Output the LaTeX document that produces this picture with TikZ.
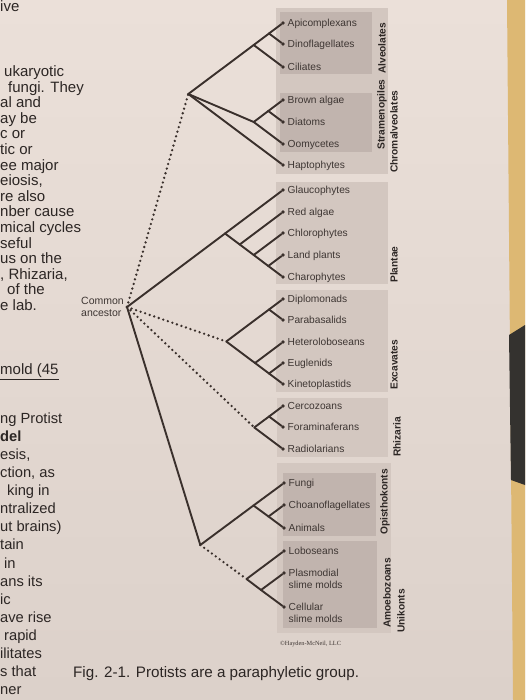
\documentclass[tikz,border=0pt]{standalone}
\usepackage{fontspec}
\setmainfont{Liberation Sans}
\newfontfamily\cpyfont{Liberation Serif}
\usetikzlibrary{positioning}
\definecolor{paperA}{HTML}{EBE0D9}
\definecolor{paperB}{HTML}{DCD1CA}
\definecolor{boxlight}{HTML}{D3C7C0}
\definecolor{boxdark}{HTML}{C1B4AE}
\definecolor{ink}{HTML}{3A302C}
\definecolor{labelgray}{HTML}{3E3633}
\definecolor{pagetext}{HTML}{2C2624}
\definecolor{tabletop}{HTML}{DDB873}
\definecolor{darkcloth}{HTML}{34322F}
\begin{document}
\begin{tikzpicture}[x=1pt,y=-1pt,
  branch/.style={ink,line width=1.9pt,line cap=round,line join=round},
  dotline/.style={ink,line width=2.6pt,line cap=round,dash pattern=on 0pt off 4.8pt},
  tip/.style={circle,fill=ink,inner sep=0pt,minimum size=3.6pt},
  leaf/.style={font=\fontsize{10.2}{12}\selectfont,text=labelgray,inner sep=0pt,text height=6.6pt,text depth=0pt},
  twoline/.style={font=\fontsize{10.2}{12}\selectfont,text=labelgray,inner sep=0pt,align=left},
  cladename/.style={font=\fontsize{10.2}{12}\selectfont\bfseries,text=pagetext,inner sep=0pt,rotate=90,anchor=west,text height=7pt,text depth=0pt},
  lightbox/.style={fill=boxlight},
  darkbox/.style={fill=boxdark},
  pagecol/.style={text=pagetext,inner sep=0pt,align=left,anchor=base west}]

  \useasboundingbox (0,0) rectangle (525,700);
  \shade[top color=paperA,bottom color=paperB] (0,0) rectangle (525,700);
  \fill[tabletop] (507,0) -- (525,0) -- (525,700) -- (513,700) -- cycle;
  \fill[darkcloth] (509,335) -- (525,325) -- (525,485) -- (511,480) -- cycle;

  % page text cut off at the left (base = last line)
  \node[pagecol,font=\fontsize{15}{15.6}\selectfont] at (0,11.5) {ive};
  \node[pagecol,font=\fontsize{15}{15.6}\selectfont] (colA) at (0,310.5) {\hspace*{4pt}ukaryotic\\
    \hspace*{8pt}fungi. They\\ al and\\ ay be\\ c or\\ tic or\\ ee major\\ eiosis,\\ re also\\
    nber cause\\ mical cycles\\ seful\\ us on the\\ , Rhizaria,\\ \hspace*{7pt}of the\\ e lab.};
  \node[pagecol,font=\fontsize{15}{15.6}\selectfont] at (0,374.5) {\underline{mold (45}};
  \node[pagecol,font=\fontsize{14.7}{18.07}\selectfont] (colB) at (0,694.5) {ng Protist\\ \textbf{del}\\
    esis,\\ ction, as\\ \hspace*{7pt}king in\\ ntralized\\ ut brains)\\ tain\\ \hspace*{4pt}in\\ ans its\\
    ic\\ ave rise\\ \hspace*{4pt}rapid\\ ilitates\\ s that\\ ner};

  % shaded clades
  \fill[lightbox] (276,8) rectangle (388,174);
  \fill[darkbox] (280,12) rectangle (372,74);
  \fill[darkbox] (280,93) rectangle (372,152);
  \fill[lightbox] (276,182) rectangle (388,284);
  \fill[lightbox] (276,290) rectangle (388,392);
  \fill[lightbox] (277,398) rectangle (388,457);
  \fill[lightbox] (277,463) rectangle (391,633);
  \fill[darkbox] (283,473) rectangle (376,536);
  \fill[darkbox] (283,541) rectangle (377,628);

  % tips
  \node[tip] (api) at (283,23) {};
  \node[tip] (dino) at (283,44) {};
  \node[tip] (cil) at (283,67) {};
  \node[tip] (brown) at (283,100) {};
  \node[tip] (diat) at (283,122) {};
  \node[tip] (oomy) at (283,144) {};
  \node[tip] (hapto) at (283,165) {};
  \node[tip] (glau) at (283,190) {};
  \node[tip] (red) at (283,212) {};
  \node[tip] (chloro) at (283,233) {};
  \node[tip] (land) at (283,255) {};
  \node[tip] (charo) at (283,277) {};
  \node[tip] (diplo) at (283,299) {};
  \node[tip] (para) at (283,320) {};
  \node[tip] (hetero) at (283,342) {};
  \node[tip] (eugl) at (283,363) {};
  \node[tip] (kineto) at (283,384) {};
  \node[tip] (cerco) at (283,406) {};
  \node[tip] (foram) at (283,427) {};
  \node[tip] (radio) at (283,449) {};
  \node[tip] (fungi) at (284,483) {};
  \node[tip] (choano) at (284,505) {};
  \node[tip] (animal) at (284,528) {};
  \node[tip] (lobo) at (284,551) {};
  \node[tip] (plasmo) at (284,573) {};
  \node[tip] (cell) at (284,607) {};

  \node[leaf,right=2.5pt of api] {Apicomplexans};
  \node[leaf,right=2.5pt of dino] {Dinoflagellates};
  \node[leaf,right=2.5pt of cil] {Ciliates};
  \node[leaf,right=2.5pt of brown] {Brown algae};
  \node[leaf,right=2.5pt of diat] {Diatoms};
  \node[leaf,right=2.5pt of oomy] {Oomycetes};
  \node[leaf,right=2.5pt of hapto] {Haptophytes};
  \node[leaf,right=2.5pt of glau] {Glaucophytes};
  \node[leaf,right=2.5pt of red] {Red algae};
  \node[leaf,right=2.5pt of chloro] {Chlorophytes};
  \node[leaf,right=2.5pt of land] {Land plants};
  \node[leaf,right=2.5pt of charo] {Charophytes};
  \node[leaf,right=2.5pt of diplo] {Diplomonads};
  \node[leaf,right=2.5pt of para] {Parabasalids};
  \node[leaf,right=2.5pt of hetero] {Heteroloboseans};
  \node[leaf,right=2.5pt of eugl] {Euglenids};
  \node[leaf,right=2.5pt of kineto] {Kinetoplastids};
  \node[leaf,right=2.5pt of cerco] {Cercozoans};
  \node[leaf,right=2.5pt of foram] {Foraminaferans};
  \node[leaf,right=2.5pt of radio] {Radiolarians};
  \node[leaf,right=2.5pt of fungi] {Fungi};
  \node[leaf,right=2.5pt of choano] {Choanoflagellates};
  \node[leaf,right=2.5pt of animal] {Animals};
  \node[leaf,right=2.5pt of lobo] {Loboseans};
  \node[twoline,right=2.5pt of plasmo,anchor=north west,yshift=4.1pt] {Plasmodial\\slime molds};
  \node[twoline,right=2.5pt of cell,anchor=north west,yshift=4.1pt] {Cellular\\slime molds};

  % clade names
  \node[cladename] at (382,74) {Alveolates};
  \node[cladename] at (381,150) {Stramenopiles};
  \node[cladename] at (394,173) {Chromalveolates};
  \node[cladename] at (394,283) {Plantae};
  \node[cladename] at (394,390) {Excavates};
  \node[cladename] at (397,457) {Rhizaria};
  \node[cladename] at (384,535) {Opisthokonts};
  \node[cladename] at (387,628) {Amoebozoans};
  \node[cladename] at (401,633) {Unikonts};

  % branch points
  \coordinate (root) at (127,307);
  \coordinate (chrom) at (188.3,94);
  \coordinate (alveo) at (253.7,45);
  \coordinate (apidino) at (269,33.5);
  \coordinate (stram) at (253.7,122);
  \coordinate (browndiat) at (268.3,111);
  \coordinate (plantae) at (225,233.5);
  \coordinate (pl2) at (239.7,244.5);
  \coordinate (pl3) at (253.7,255);
  \coordinate (pl4) at (268.3,266);
  \coordinate (excav) at (226.3,341.5);
  \coordinate (diplopara) at (269,309.5);
  \coordinate (ex2) at (255,363);
  \coordinate (ex3) at (269,373.5);
  \coordinate (rhiz) at (254.3,427.5);
  \coordinate (cercoforam) at (269,416.5);
  \coordinate (unik) at (200.3,545);
  \coordinate (opis) at (253.5,505.5);
  \coordinate (choanoanim) at (268.5,516.5);
  \coordinate (amoeb) at (246.5,579);
  \coordinate (plascell) at (261,590);

  \node[twoline,font=\fontsize{10.5}{12}\selectfont,anchor=north west] (anc) at (81,297) {Common\\ancestor};

  \path[dotline] (root) edge (chrom) edge (excav) edge (rhiz) (unik) edge (amoeb);
  \path[branch] (root) edge (plantae) edge (unik);
  \path[branch] (chrom) edge (alveo) edge (stram) edge (hapto)
    (alveo) edge (apidino) edge (cil) (apidino) edge (api) edge (dino)
    (stram) edge (browndiat) edge (oomy) (browndiat) edge (brown) edge (diat);
  \path[branch] (plantae) edge (glau) edge (pl2) (pl2) edge (red) edge (pl3)
    (pl3) edge (chloro) edge (pl4) (pl4) edge (land) edge (charo);
  \path[branch] (excav) edge (diplopara) edge (ex2) (diplopara) edge (diplo) edge (para)
    (ex2) edge (hetero) edge (ex3) (ex3) edge (eugl) edge (kineto);
  \path[branch] (rhiz) edge (cercoforam) edge (radio) (cercoforam) edge (cerco) edge (foram);
  \path[branch] (unik) edge (opis) (opis) edge (fungi) edge (choanoanim)
    (choanoanim) edge (choano) edge (animal)
    (amoeb) edge (lobo) edge (plascell) (plascell) edge (plasmo) edge (cell);

  \node[anchor=base west,inner sep=0pt,text=labelgray,font=\cpyfont\fontsize{6.3}{7}\selectfont] (cpy) at (280,645) {\textcopyright Hayden-McNeil, LLC};
  \node[anchor=base west,inner sep=0pt,text=pagetext,font=\fontsize{15.2}{18}\selectfont] (caption) at (73,677) {Fig. 2-1. Protists are a paraphyletic group.};
\end{tikzpicture}
\end{document}
